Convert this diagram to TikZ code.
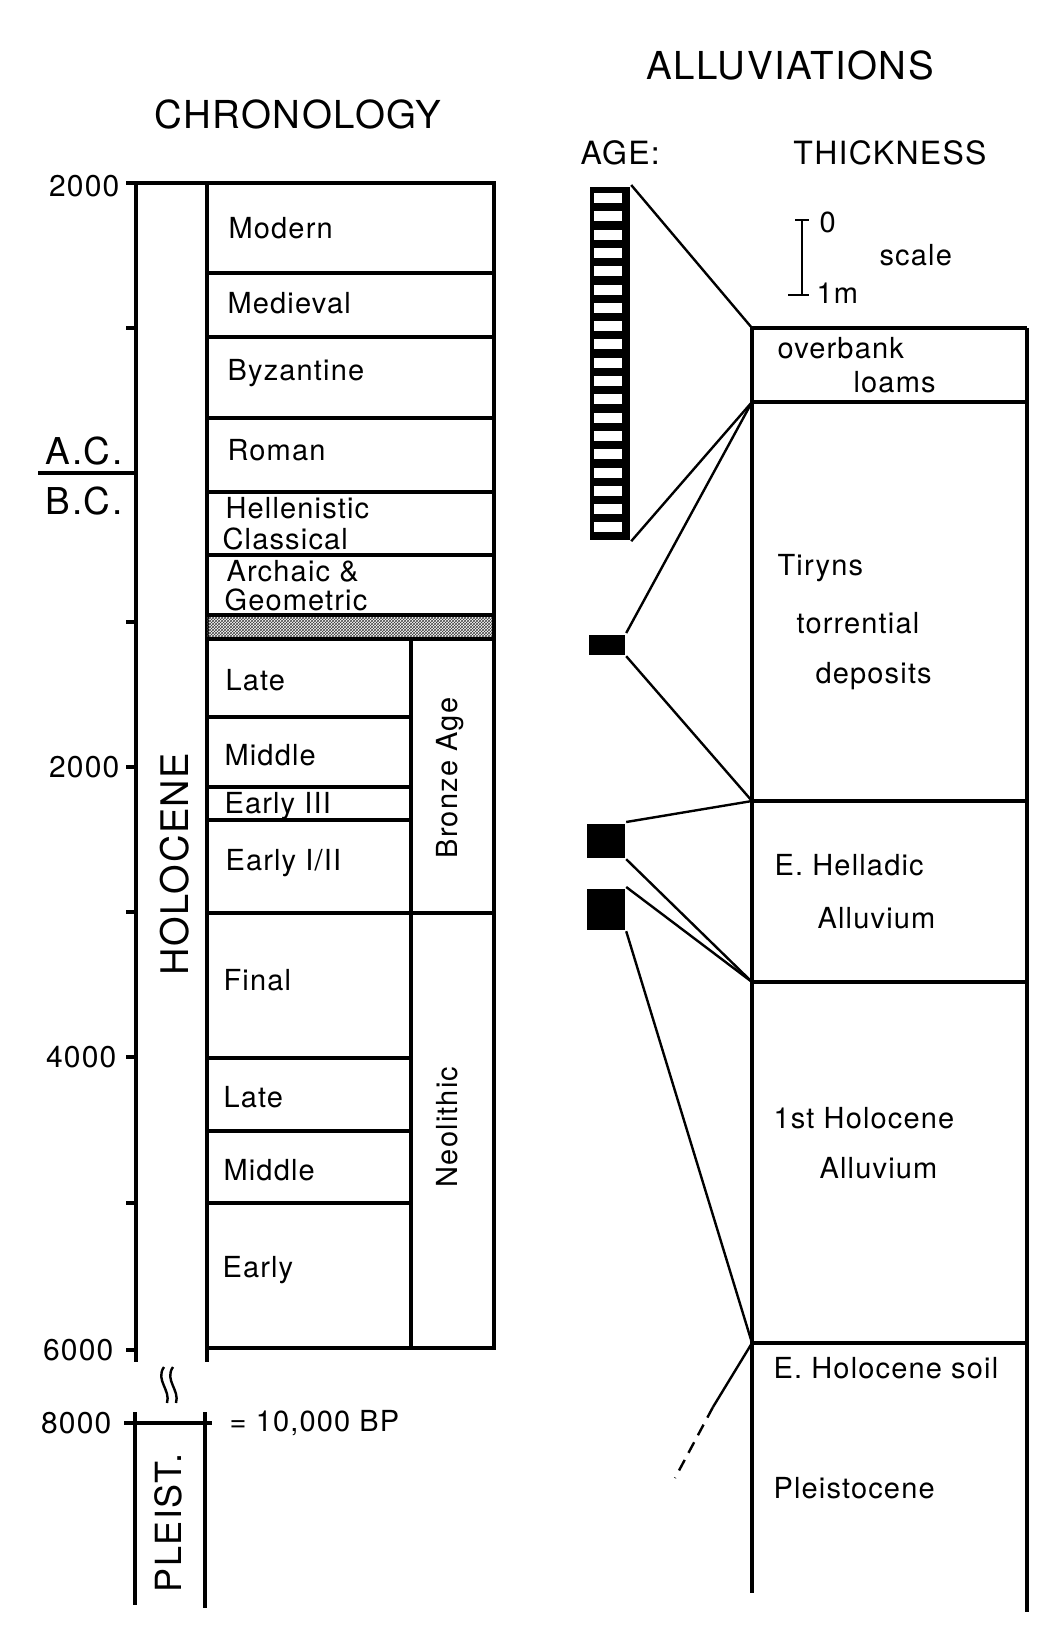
\documentclass[tikz,border=0pt]{standalone}
\usepackage{fontspec}
\setmainfont{TeX Gyre Heros}[LetterSpace=4]
\usetikzlibrary{patterns}

\begin{document}
\begin{tikzpicture}[x=1pt, y=-1pt, line width=3.2pt,
    lbl/.style={anchor=west, inner sep=0pt, font=\fontsize{29}{31}\selectfont},
    vlbl/.style={rotate=90, inner sep=0pt, font=\fontsize{29}{31}\selectfont},
    yr/.style={anchor=east, inner sep=0pt, font=\fontsize{30}{32}\selectfont},
    ttl/.style={inner sep=0pt, font=\fontsize{38.5}{41}\selectfont},
    blk/.style={fill=black, draw=none, inner sep=0pt, anchor=north west},
    link/.style={line width=2.4pt}]

    \useasboundingbox (0,0) rectangle (1064,1638);

    % ====================
    % 1. Titles
    % ====================
    \node[ttl] (chron) at (298,114) {CHRONOLOGY};
    \node[ttl] (alluv) at (790,65) {ALLUVIATIONS};
    \node[ttl, font=\fontsize{32}{34}\selectfont, anchor=west] (age) at (579,153) {AGE:};
    \node[ttl, font=\fontsize{32}{34}\selectfont] (thick) at (890,153) {THICKNESS};

    % ====================
    % 2. Time axis
    % ====================
    \draw (136,183) -- (136,1362);
    \draw (135,1412) -- (135,1605);
    \foreach \y in {328,622,767,912,1057,1203,1350} {
        \draw (126,\y) -- (136,\y);
    }
    \draw (38,473) -- (136,473);           % A.C. / B.C.
    \draw (124,1423) -- (212,1423);        % 8000

    \node[yr] (y0) at (121,186) {2000};
    \node[yr] (y1) at (121,767) {2000};
    \node[yr] (y2) at (118,1057) {4000};
    \node[yr] (y3) at (115,1350) {6000};
    \node[yr] (y4) at (113,1423) {8000};
    \node[yr, font=\fontsize{37}{40}\selectfont] (ac) at (124,451) {A.C.};
    \node[yr, font=\fontsize{37}{40}\selectfont] (bc) at (124,501) {B.C.};

    % axis break
    \draw[link] (164,1367) .. controls (155,1380) and (171,1390) .. (167,1403);
    \draw[link] (173,1367) .. controls (164,1380) and (180,1390) .. (176,1403);

    % Holocene / Pleistocene column
    \draw (207,183) -- (207,1362);
    \draw (205,1412) -- (205,1608);
    \node[vlbl, font=\fontsize{38}{40}\selectfont] (holo) at (175,864) {HOLOCENE};
    \node[vlbl, font=\fontsize{36}{38}\selectfont] (pleist) at (168,1523) {PLEIST.};
    \node[lbl] (bp) at (228,1423) {= 10,000 BP};

    % ====================
    % 3. Periods
    % ====================
    \fill[pattern=crosshatch, pattern color=black!75] (207,615) rectangle (494,639);
    \draw (126,183) -- (494,183) -- (494,1348) -- (207,1348);
    \foreach \y in {273,337,418,492,555,615,639,913} {
        \draw (207,\y) -- (494,\y);
    }
    \foreach \y in {717,787,820,1058,1131,1203} {
        \draw (207,\y) -- (411,\y);
    }
    \draw (411,639) -- (411,1348);

    \node[lbl] (mod) at (227,228) {Modern};
    \node[lbl] (med) at (226,303) {Medieval};
    \node[lbl] (byz) at (226,373) {Byzantine};
    \node[lbl] (rom) at (226,450) {Roman};
    \node[lbl] (hel) at (224,508) {Hellenistic};
    \node[lbl] (cla) at (221,539) {Classical};
    \node[lbl] (arc) at (225,571) {Archaic \&};
    \node[lbl] (geo) at (223,600) {Geometric};
    \node[lbl] (bla) at (224,680) {Late};
    \node[lbl] (bmi) at (223,755) {Middle};
    \node[lbl] (be3) at (223,806) {Early III};
    \node[lbl] (be1) at (224,863) {Early I/II};
    \node[lbl] (nfi) at (222,980) {Final};
    \node[lbl] (nla) at (222,1097) {Late};
    \node[lbl] (nmi) at (222,1170) {Middle};
    \node[lbl] (nea) at (221,1270) {Early};
    \node[vlbl] (bronze) at (450,778) {Bronze Age};
    \node[vlbl] (neo) at (447,1127) {Neolithic};

    % ====================
    % 4. Alluvial units (thickness)
    % ====================
    \coordinate (ob) at (752,328);
    \coordinate (ty) at (752,402);
    \coordinate (eh) at (752,801);
    \coordinate (h1) at (752,982);
    \coordinate (es) at (752,1343);

    \draw (ob) -- (752,1593);
    \draw (1027,328) -- (1027,1612);
    \foreach \c in {ob,ty,eh,h1,es} {
        \draw (\c) -- ++(275,0);
    }

    % scale
    \draw[link] (802,220) -- (802,295);
    \draw[link] (795,220) -- (809,220);
    \draw[link] (788,295) -- (809,295);
    \node[lbl] (s0) at (818,222) {0};
    \node[lbl] (s1) at (815,293) {1m};
    \node[lbl] (sc) at (878,255) {scale};

    \node[lbl] (ob1) at (776,348) {overbank};
    \node[lbl] (ob2) at (852,382) {loams};
    \node[lbl] (ty1) at (776,568) {Tiryns};
    \node[lbl] (ty2) at (795,623) {torrential};
    \node[lbl] (ty3) at (814,676) {deposits};
    \node[lbl] (eh1) at (773,865) {E. Helladic};
    \node[lbl] (eh2) at (816,918) {Alluvium};
    \node[lbl] (ho1) at (772,1118) {1st Holocene};
    \node[lbl] (ho2) at (818,1168) {Alluvium};
    \node[lbl] (es1) at (772,1368) {E. Holocene soil};
    \node[lbl] (pl1) at (772,1488) {Pleistocene};

    % ====================
    % 5. Ages of the units
    % ====================
    \node[blk, minimum width=40, minimum height=353] (lad) at (588,185) {};
    \foreach \i in {0,...,18} {
        \fill[white] (594,193+18.3*\i) rectangle (622,203+18.3*\i);
    }
    \node[blk, minimum width=36, minimum height=20] (b1) at (587,633) {};
    \node[blk, minimum width=38, minimum height=34] (b2) at (585,822) {};
    \node[blk, minimum width=38, minimum height=41] (b3) at (585,887) {};

    \draw[link] (lad.north east) -- (ob);
    \draw[link] (lad.south east) -- (ty);
    \draw[link] (b1.north east) -- (ty);
    \draw[link] (b1.south east) -- (eh);
    \draw[link] (b2.north east) -- (eh);
    \draw[link] (b2.south east) -- (h1);
    \draw[link] (b3.north east) -- (h1);
    \draw[link] (b3.south east) -- (es);

    \coordinate (pl) at (713,1407);
    \coordinate (plx) at (675,1478);
    \draw[link] (es) -- (pl);
    \draw[link, dash pattern=on 12pt off 8pt] (pl) -- (plx);

\end{tikzpicture}
\end{document}
